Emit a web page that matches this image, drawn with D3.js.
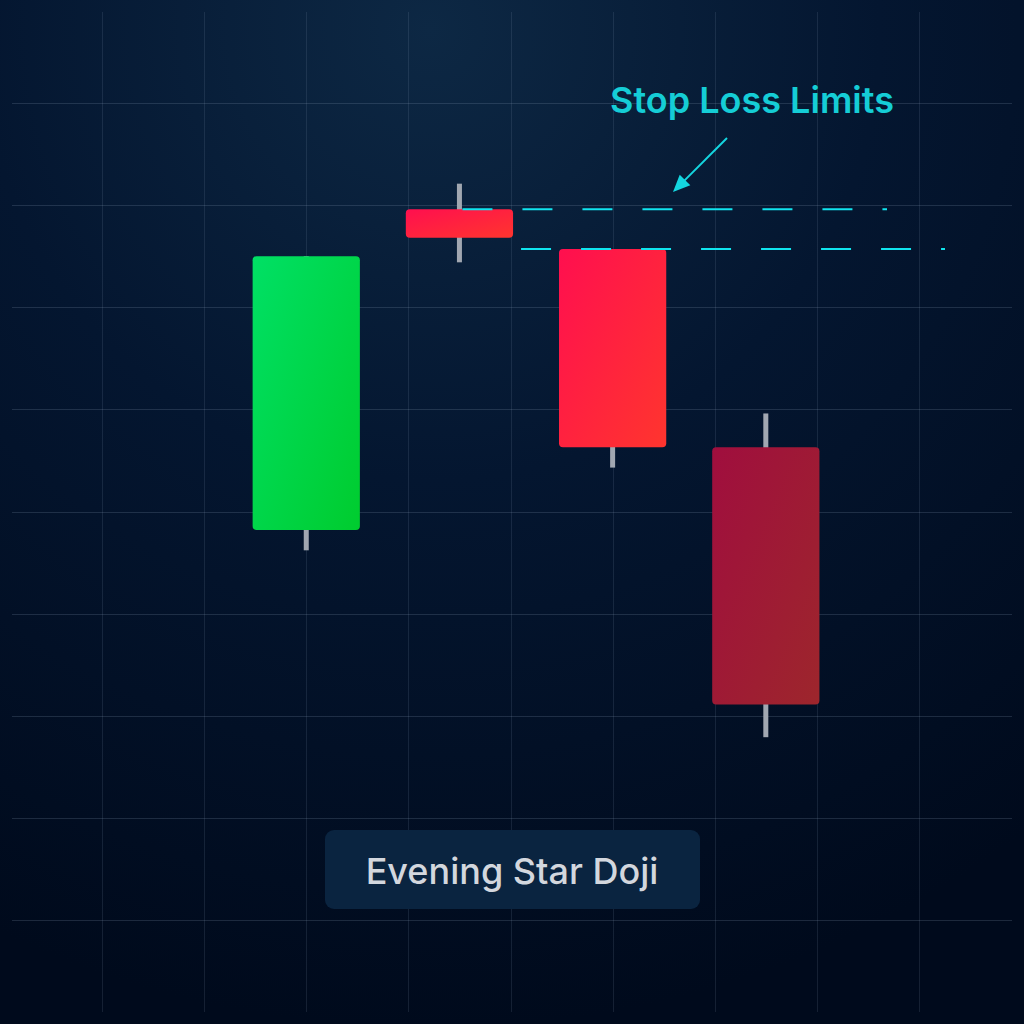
<!DOCTYPE html>
<html>
<head>
<meta charset="utf-8">
<script src="https://cdn.jsdelivr.net/npm/d3@7"></script>
<style>
  html, body { margin: 0; padding: 0; background: #010c1f; }
  svg { display: block; }
</style>
</head>
<body>
<svg id="chart" width="1024" height="1024"></svg>
<script>
// ---- data ----
const candleNames = ["Bullish", "Doji", "Bearish 1", "Bearish 2"];
const opens  = [38.2, 69.6, 65.7, 46.3];
const closes = [65.0, 66.8, 46.3, 21.1];
const highs  = [65.0, 72.1, 65.7, 49.6];
const lows   = [36.2, 64.4, 44.3, 17.9];
const candleStyles = ["green", "red", "red", "darkred"];
const priceTicks = [0, 10, 20, 30, 40, 50, 60, 70, 80];
const gridCols = [0, 1, 2, 3, 4, 5, 6, 7, 8];
const stopLossLevels = [69.6, 65.7];
const annotationText = "Stop Loss Limits";
const titleText = "Evening Star Doji";

// ---- setup ----
const W = 1024, H = 1024;
const svg = d3.select("#chart");
const defs = svg.append("defs");

const bg = defs.append("radialGradient").attr("id", "bg")
  .attr("gradientUnits", "userSpaceOnUse")
  .attr("cx", 430).attr("cy", 30).attr("r", 1000);
bg.append("stop").attr("offset", "0").attr("stop-color", "#0d2844");
bg.append("stop").attr("offset", "0.45").attr("stop-color", "#041630");
bg.append("stop").attr("offset", "1").attr("stop-color", "#000a1c");

function lin(id, c1, c2) {
  const g = defs.append("linearGradient").attr("id", id)
    .attr("x1", "0").attr("y1", "0").attr("x2", "1").attr("y2", "1");
  g.append("stop").attr("offset", "0").attr("stop-color", c1);
  g.append("stop").attr("offset", "1").attr("stop-color", c2);
}
lin("green", "#00e065", "#00cc2e");
lin("red", "#ff0f4f", "#ff352e");
lin("darkred", "#a00e3e", "#9d262c");

svg.append("rect").attr("width", W).attr("height", H).attr("fill", "url(#bg)");

const y = d3.scaleLinear().domain([0, 80]).range([920, 103]);
const x = d3.scaleLinear().domain([0, 8]).range([102, 919]);

// ---- grid ----
const grid = svg.append("g").attr("stroke", "#8fa3bf").attr("stroke-opacity", 0.2).attr("stroke-width", 1);
grid.selectAll("line.h").data(priceTicks).join("line").attr("class", "h")
  .attr("x1", 12).attr("x2", 1012)
  .attr("y1", d => Math.round(y(d)) + 0.5).attr("y2", d => Math.round(y(d)) + 0.5);
grid.selectAll("line.v").data(gridCols).join("line").attr("class", "v")
  .attr("y1", 12).attr("y2", 1012)
  .attr("x1", d => Math.round(x(d)) + 0.5).attr("x2", d => Math.round(x(d)) + 0.5)
  .attr("stroke-opacity", 0.15);

// ---- candles ----
const candles = candleNames.map((n, i) => ({
  name: n, open: opens[i], close: closes[i], high: highs[i], low: lows[i], style: candleStyles[i], i
}));
const cx = i => x(2 + 1.5 * i);
const bodyW = x(1.05) - x(0);

const cg = svg.append("g");
cg.selectAll("rect.wick").data(candles).join("rect").attr("class", "wick")
  .attr("x", d => cx(d.i) - 2.5).attr("width", 5)
  .attr("y", d => y(d.high)).attr("height", d => y(d.low) - y(d.high))
  .attr("fill", "#a1a7b1");
cg.selectAll("rect.body").data(candles).join("rect").attr("class", "body")
  .attr("x", d => cx(d.i) - bodyW / 2).attr("width", bodyW)
  .attr("y", d => y(Math.max(d.open, d.close)))
  .attr("height", d => Math.abs(y(d.open) - y(d.close)))
  .attr("rx", 4).attr("ry", 4)
  .attr("fill", d => `url(#${d.style})`);

// ---- stop loss lines ----
const slStarts = [cx(1) + 3, cx(1) + bodyW / 2 + 8];
const slEnds = [887, 945];
svg.append("g").selectAll("line").data(stopLossLevels).join("line")
  .attr("x1", (d, i) => slStarts[i]).attr("x2", (d, i) => slEnds[i])
  .attr("y1", d => y(d)).attr("y2", d => y(d))
  .attr("stroke", "#10e4ee").attr("stroke-width", 2)
  .attr("stroke-dasharray", "30,30");

// ---- arrow ----
const tip = [673, 192], start = [727, 138];
const dx = tip[0] - start[0], dy = tip[1] - start[1];
const len = Math.hypot(dx, dy);
const ux = dx / len, uy = dy / len;
const hl = 17, hw = 7.5;
const bx = tip[0] - ux * hl, by = tip[1] - uy * hl;
svg.append("line")
  .attr("x1", start[0]).attr("y1", start[1]).attr("x2", bx + ux * 2).attr("y2", by + uy * 2)
  .attr("stroke", "#14d6e0").attr("stroke-width", 2);
svg.append("path")
  .attr("d", d3.line()([[tip[0], tip[1]], [bx - uy * hw, by + ux * hw], [bx + uy * hw, by - ux * hw]]) + "Z")
  .attr("fill", "#14d6e0");

svg.append("text")
  .attr("x", 610).attr("y", 113)
  .attr("font-family", "Inter, 'Noto Sans', sans-serif")
  .attr("font-weight", 600).attr("font-size", 36)
  .attr("fill", "#15cdd6")
  .text(annotationText);

// ---- title label ----
svg.append("rect").attr("x", 325).attr("y", 830).attr("width", 375).attr("height", 79)
  .attr("rx", 9).attr("fill", "#0a2440");
svg.append("text")
  .attr("x", 512).attr("y", 884).attr("text-anchor", "middle")
  .attr("font-family", "Inter, 'Noto Sans', sans-serif")
  .attr("font-weight", 500).attr("font-size", 36)
  .attr("fill", "#d3d7de")
  .text(titleText);
</script>
</body>
</html>
